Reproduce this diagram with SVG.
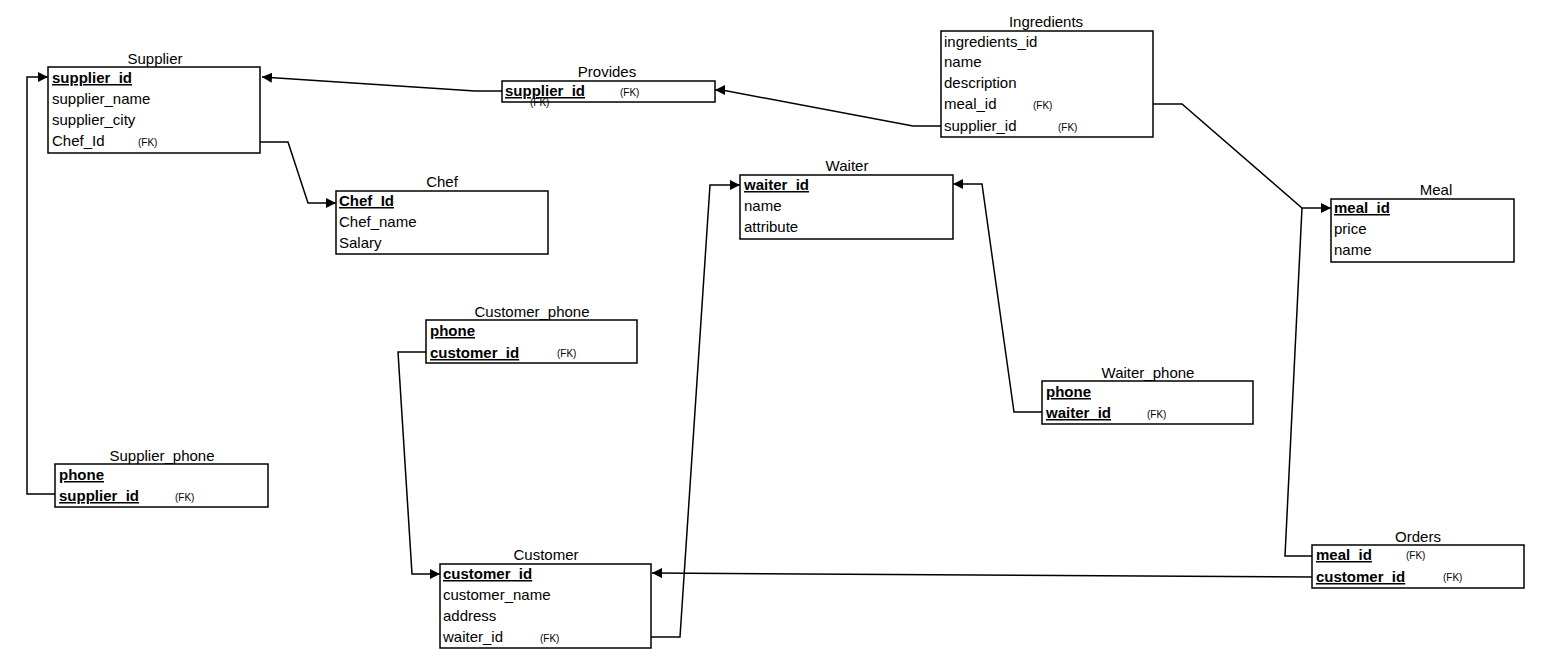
<svg xmlns="http://www.w3.org/2000/svg" width="1557" height="666" viewBox="0 0 1557 666">
<style>
text{font-family:"Liberation Sans",Arial,sans-serif;fill:#000}
.t{font-size:15px;text-anchor:middle}
.f{font-size:15px}
.k{font-size:15px;font-weight:bold;text-decoration:underline}
.fk{font-size:10px}
.b{fill:#fff;stroke:#000;stroke-width:1.5}
.c{fill:none;stroke:#000;stroke-width:1.5;marker-end:url(#a)}
.n{fill:none;stroke:#000;stroke-width:1.5}
</style>
<defs><marker id="a" viewBox="0 0 10 10" refX="10" refY="5" markerWidth="10" markerHeight="10" markerUnits="userSpaceOnUse" orient="auto"><path d="M0,0L10,5L0,10z"/></marker></defs>
<rect width="1557" height="666" fill="#fff"/>
<g id="connectors">
<polyline class="c" points="502,91 475,91 262,77"/>
<polyline class="c" points="55,494 27,494 27,77 48,77"/>
<polyline class="c" points="260,142 288,142 308,203 336,203"/>
<polyline class="c" points="941,126 913,126 722,90 715,90"/>
<polyline class="c" points="1153,104 1182,104 1302,208 1331,208"/>
<polyline class="n" points="1312,556 1285,556 1302,208"/>
<polyline class="c" points="1312,577 652,573"/>
<polyline class="c" points="651,637 680,637 710,185 740,185"/>
<polyline class="c" points="426,352 398,352 412,574 440,574"/>
<polyline class="c" points="1042,412 1014,412 982,184 953,184"/>
</g>
<g id="Supplier"><text class="t" x="155" y="64">Supplier</text><rect class="b" x="48" y="67" width="212" height="86"/>
<text class="k" x="52" y="83">supplier_id</text><text class="f" x="52" y="104">supplier_name</text><text class="f" x="52" y="125">supplier_city</text><text class="f" x="52" y="146">Chef_Id</text><text class="fk" x="138" y="146">(FK)</text></g>
<g id="Provides"><text class="t" x="607" y="77">Provides</text><rect class="b" x="502" y="81" width="213" height="21" stroke-width="3"/>
<text class="k" x="505" y="96">supplier_id</text><text class="fk" x="620" y="96">(FK)</text><text class="fk" x="530" y="106">(FK)</text></g>
<g id="Ingredients"><text class="t" x="1046" y="27">Ingredients</text><rect class="b" x="941" y="31" width="212" height="106"/>
<text class="f" x="944" y="47">ingredients_id</text><text class="f" x="944" y="67">name</text><text class="f" x="944" y="88">description</text><text class="f" x="944" y="109">meal_id</text><text class="fk" x="1033" y="109">(FK)</text><text class="f" x="944" y="131">supplier_id</text><text class="fk" x="1058" y="131">(FK)</text></g>
<g id="Chef"><text class="t" x="442" y="187">Chef</text><rect class="b" x="336" y="191" width="212" height="63"/>
<text class="k" x="339" y="206">Chef_Id</text><text class="f" x="339" y="227">Chef_name</text><text class="f" x="339" y="248">Salary</text></g>
<g id="Waiter"><text class="t" x="847" y="171">Waiter</text><rect class="b" x="740" y="175" width="213" height="64"/>
<text class="k" x="744" y="190">waiter_id</text><text class="f" x="744" y="211">name</text><text class="f" x="744" y="232">attribute</text></g>
<g id="Meal"><text class="t" x="1436" y="195">Meal</text><rect class="b" x="1331" y="199" width="183" height="63"/>
<text class="k" x="1334" y="213">meal_id</text><text class="f" x="1334" y="234">price</text><text class="f" x="1334" y="255">name</text></g>
<g id="Customer_phone"><text class="t" x="532" y="317">Customer_phone</text><rect class="b" x="426" y="320" width="211" height="43"/>
<text class="k" x="430" y="336">phone</text><text class="k" x="430" y="358">customer_id</text><text class="fk" x="557" y="357">(FK)</text></g>
<g id="Waiter_phone"><text class="t" x="1148" y="378">Waiter_phone</text><rect class="b" x="1042" y="381" width="211" height="43"/>
<text class="k" x="1046" y="397">phone</text><text class="k" x="1046" y="418">waiter_id</text><text class="fk" x="1147" y="418">(FK)</text></g>
<g id="Supplier_phone"><text class="t" x="162" y="461">Supplier_phone</text><rect class="b" x="55" y="464" width="213" height="43"/>
<text class="k" x="59" y="480">phone</text><text class="k" x="59" y="501">supplier_id</text><text class="fk" x="175" y="501">(FK)</text></g>
<g id="Customer"><text class="t" x="546" y="560">Customer</text><rect class="b" x="440" y="564" width="211" height="84"/>
<text class="k" x="443" y="579">customer_id</text><text class="f" x="443" y="600">customer_name</text><text class="f" x="443" y="621">address</text><text class="f" x="443" y="642">waiter_id</text><text class="fk" x="540" y="642">(FK)</text></g>
<g id="Orders"><text class="t" x="1418" y="542">Orders</text><rect class="b" x="1312" y="545" width="212" height="43"/>
<text class="k" x="1316" y="560">meal_id</text><text class="fk" x="1406" y="559">(FK)</text><text class="k" x="1316" y="582">customer_id</text><text class="fk" x="1443" y="581">(FK)</text></g>
</svg>
